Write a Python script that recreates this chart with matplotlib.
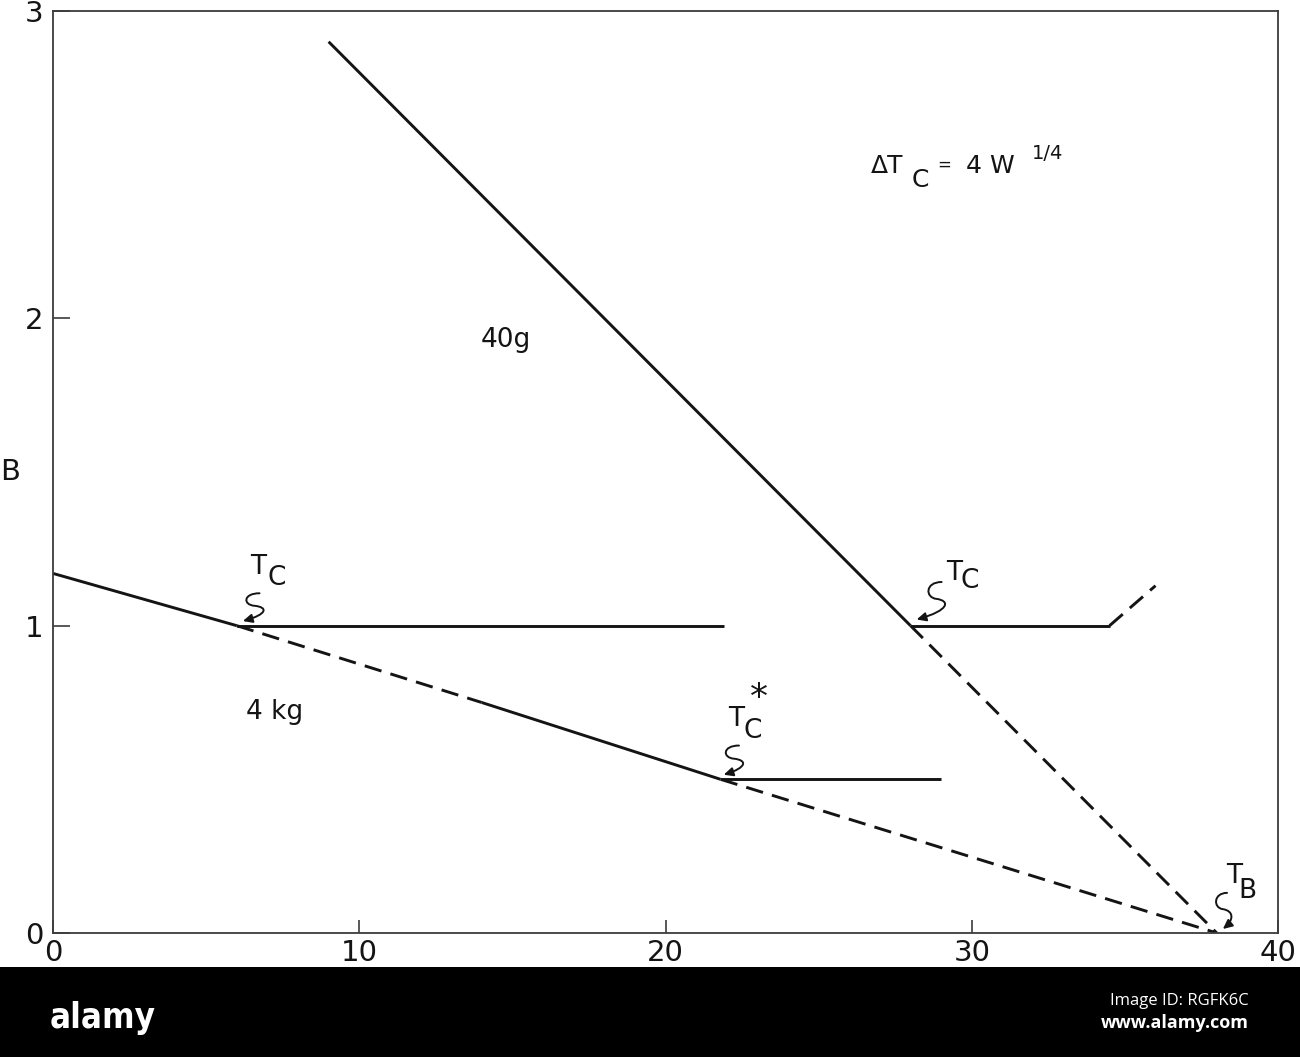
import matplotlib
matplotlib.use("Agg")
import matplotlib.pyplot as plt
import matplotlib.transforms as mtransforms
from matplotlib.patches import FancyArrowPatch, Rectangle
from matplotlib.path import Path

# ── Data ───────────────────────────────────────────────────────────────────────
# 40 g animal
g40_fall_x = [9, 28]
g40_fall_y = [2.9, 1.0]
g40_flat_x = [28, 34.5]
g40_flat_y = [1.0, 1.0]
g40_rise_x = [34.5, 36.0]
g40_rise_y = [1.0, 1.13]
g40_ext_x = [28, 38]
g40_ext_y = [1.0, 0.0]

# 4 kg animal
kg4_fall_x = [0, 6]
kg4_fall_y = [1.17, 1.0]
kg4_flat_x = [6, 21.9]
kg4_flat_y = [1.0, 1.0]
kg4_ext_x = [6, 14]
kg4_ext_y = [1.0, 0.75]
kg4s_fall_x = [14, 21.8]
kg4s_fall_y = [0.75, 0.5]
kg4s_flat_x = [21.8, 29]
kg4s_flat_y = [0.5, 0.5]
kg4s_ext_x = [21.8, 38]
kg4s_ext_y = [0.5, 0.0]

x_ticks = [0, 10, 20, 30, 40]
y_ticks = [0, 1, 2, 3]

INK = "#141414"
SPINE = "#3c3c3c"
DASH = (0, (6, 3.2))
LW = 2.1

fig = plt.figure(figsize=(13, 10.57), dpi=100)
fig.patch.set_facecolor("white")
ax = fig.add_axes([53 / 1300, (1057 - 933) / 1057, 1225 / 1300, 922 / 1057])

# ── Lines ─────────────────────────────────────────────────────────────────────
ax.plot(g40_fall_x, g40_fall_y, color=INK, lw=LW, solid_capstyle="butt")
ax.plot(g40_flat_x, g40_flat_y, color=INK, lw=LW, solid_capstyle="butt")
ax.plot(g40_rise_x, g40_rise_y, color=INK, lw=LW, linestyle=DASH)
ax.plot(g40_ext_x, g40_ext_y, color=INK, lw=LW, linestyle=DASH)

ax.plot(kg4_fall_x, kg4_fall_y, color=INK, lw=LW, solid_capstyle="butt")
ax.plot(kg4_flat_x, kg4_flat_y, color=INK, lw=LW, solid_capstyle="butt")
ax.plot(kg4_ext_x, kg4_ext_y, color=INK, lw=LW, linestyle=DASH)
ax.plot(kg4s_fall_x, kg4s_fall_y, color=INK, lw=LW, solid_capstyle="butt")
ax.plot(kg4s_flat_x, kg4s_flat_y, color=INK, lw=LW, solid_capstyle="butt")
ax.plot(kg4s_ext_x, kg4s_ext_y, color=INK, lw=LW, linestyle=DASH)

# ── Axes style ────────────────────────────────────────────────────────────────
ax.set_xlim(0, 40)
ax.set_ylim(0, 3)
for sp in ax.spines.values():
    sp.set_color(SPINE)
    sp.set_linewidth(1.3)
ax.set_xticks(x_ticks)
ax.set_yticks(y_ticks)
ax.set_xticklabels([str(v) for v in x_ticks])
ax.set_yticklabels([str(v) for v in y_ticks])
ax.tick_params(axis="x", direction="in", length=9.5, width=1.2, color=SPINE,
               labelsize=21, pad=4, labelcolor=INK)
ax.tick_params(axis="y", direction="in", length=12, width=1.2, color=SPINE,
               labelsize=21, pad=7, labelcolor=INK)
ax.set_ylabel("B", rotation=0, fontsize=21, color=INK, va="center", ha="center")
ax.yaxis.set_label_coords(-0.035, 0.5)


# ── Annotations ───────────────────────────────────────────────────────────────
def squiggle(tip, top, w=12.0):
    """S-shaped arrow (in points) ending at data point `tip`."""
    dx, dy = top
    verts = [(dx, dy),
             (dx - w, dy), (dx - w, 0.58 * dy), (dx - 0.3 * w, 0.55 * dy),
             (dx + 0.5 * w, 0.5 * dy), (dx + 0.5 * w, 0.25 * dy), (0, 0)]
    codes = [Path.MOVETO] + [Path.CURVE4] * 6
    trans = (mtransforms.Affine2D().scale(fig.dpi / 72.0)
             + mtransforms.ScaledTranslation(tip[0], tip[1], ax.transData))
    arr = FancyArrowPatch(path=Path(verts, codes), transform=trans,
                          arrowstyle="-|>,head_length=5.5,head_width=2.6",
                          color=INK, lw=1.4, shrinkA=0, shrinkB=0)
    ax.add_patch(arr)


def sub_label(x, y, main, sub, dx=11, dy=-9, size=19):
    ax.text(x, y, main, fontsize=size, color=INK, ha="left", va="baseline")
    ax.annotate(sub, (x, y), xytext=(dx, dy), textcoords="offset points",
                fontsize=size, color=INK, ha="left", va="baseline")


# T_C on 4 kg curve
sub_label(6.43, 1.169, "T", "C", dx=13, dy=-8)
squiggle((6.2, 1.015), (12, 20))
# T_C on 40 g curve
sub_label(29.15, 1.150, "T", "C", dx=11, dy=-6)
squiggle((28.2, 1.02), (18, 27))
# T_C* on 4 kg curve
sub_label(22.05, 0.675, "T", "C", dx=11, dy=-9)
ax.text(23.05, 0.765, "*", fontsize=26, color=INK, ha="center", va="center")
squiggle((21.9, 0.515), (11, 21))
# T_B
sub_label(38.3, 0.163, "T", "B", dx=9, dy=-11)
squiggle((38.2, 0.013), (3, 26), w=10)

# Curve names
ax.text(14.8, 1.93, "40g", fontsize=19, color=INK, ha="center", va="center")
ax.text(7.25, 0.72, "4 kg", fontsize=19, color=INK, ha="center", va="center")

# Formula  ΔT_C = 4 W^(1/4)
ax.text(26.7, 2.472, "ΔT", fontsize=18, color=INK, ha="left", va="baseline")
ax.text(28.05, 2.427, "C", fontsize=18, color=INK, ha="left", va="baseline")
ax.text(29.1, 2.50, "=", fontsize=12, color=INK, ha="center", va="center")
ax.text(29.8, 2.472, "4 W", fontsize=18, color=INK, ha="left", va="baseline")
ax.text(31.95, 2.518, "1/4", fontsize=14, color=INK, ha="left", va="baseline")

# ── Stock banner ──────────────────────────────────────────────────────────────
fig.patches.append(Rectangle((0, 0), 1, 90 / 1057, transform=fig.transFigure,
                             facecolor="black", edgecolor="none", zorder=0))
fig.text(50 / 1300, (1057 - 1028) / 1057, "alamy", color="white", fontsize=25,
         fontweight="bold", fontstretch="condensed", ha="left", va="baseline")
fig.text(1249 / 1300, (1057 - 1005) / 1057, "Image ID: RGFK6C", color="white",
         fontsize=12, family="Open Sans", ha="right", va="baseline")
fig.text(1249 / 1300, (1057 - 1028) / 1057, "www.alamy.com", color="white",
         fontsize=13, family="Open Sans", fontweight="bold", ha="right", va="baseline")

fig.savefig("out.png", dpi=100, facecolor="white")
